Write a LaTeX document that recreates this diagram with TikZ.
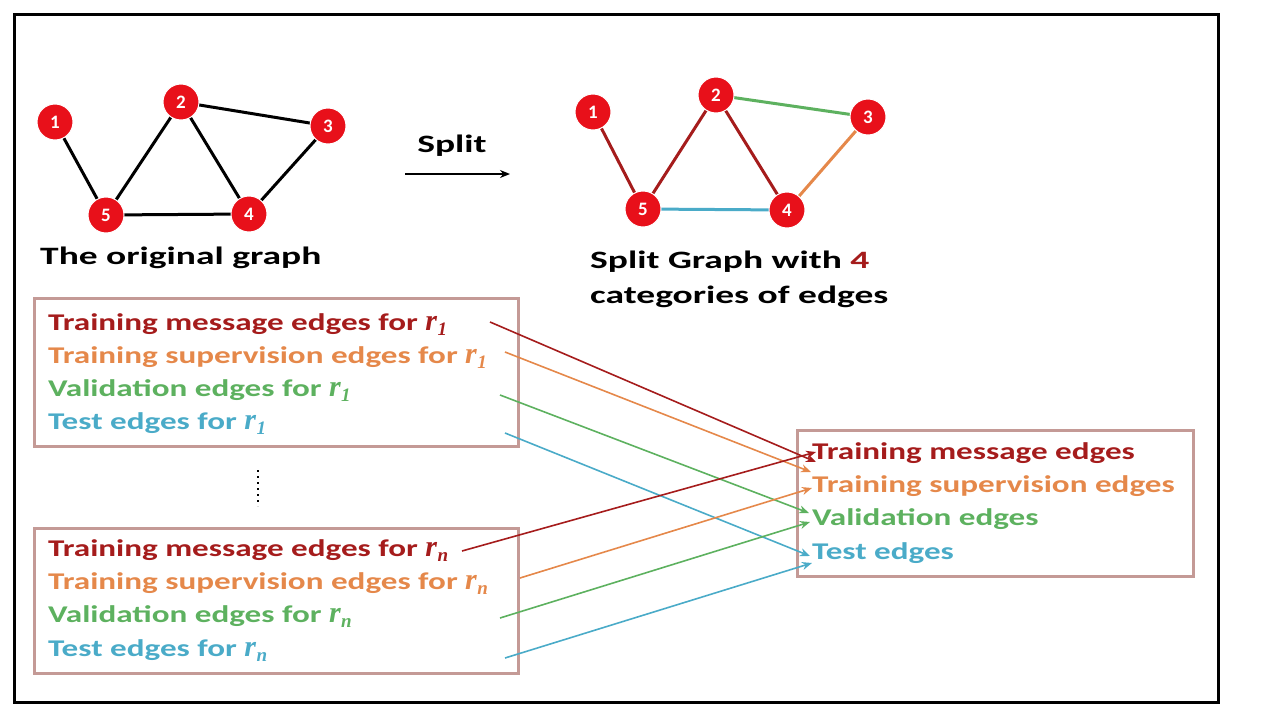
\documentclass[tikz,border=0pt]{standalone}
\usepackage{fontspec}
\setmainfont{Carlito}
\newfontfamily\widefont[FakeStretch=1.38]{Carlito}
\newfontfamily\wideerfont[FakeStretch=1.5]{Carlito}
\newfontfamily\rfont{Liberation Serif}
\usetikzlibrary{arrows.meta}
\definecolor{dred}{HTML}{A51C1C}
\definecolor{org}{HTML}{E5884A}
\definecolor{grn}{HTML}{5DB15F}
\definecolor{blu}{HTML}{4AABC8}
\definecolor{frm}{HTML}{C49A96}
\definecolor{nred}{HTML}{E8101A}
\newcommand{\rv}[1]{{\rfont\bfseries\itshape\fontsize{30}{30}\selectfont r\kern0.5pt\raisebox{-5pt}{\fontsize{19}{19}\selectfont #1}}}
\tikzset{
  vtx/.style={circle,fill=nred,draw=white,line width=1pt,minimum size=36pt,inner sep=0pt,text=white,font=\fontsize{19}{19}\selectfont\bfseries},
  lbl/.style={anchor=west,inner sep=0pt,font=\widefont\fontsize{24}{28}\selectfont\bfseries},
  ttl/.style={anchor=west,inner sep=0pt,font=\wideerfont\fontsize{25}{29}\selectfont\bfseries},
  ge/.style={line width=3pt},
  sbox/.style={draw=frm,line width=3pt},
  arr/.style={line width=1.6pt,-{Stealth[length=10pt,width=8pt]}}
}
\begin{document}
\begin{tikzpicture}[x=1pt,y=-1pt]
\useasboundingbox (0,0) rectangle (1280,720);
\draw[line width=3pt] (14,14) rectangle (1218,702);
% original graph
\coordinate (c1) at (55,122); \coordinate (c2) at (181,102);
\coordinate (c3) at (328,126); \coordinate (c5) at (106,215);
\coordinate (c4) at (249,214);
\draw[ge] (c1)--(c5) (c5)--(c2) (c2)--(c4) (c2)--(c3) (c3)--(c4) (c5)--(c4);
\node[vtx] (a1) at (c1) {1};
\node[vtx] (a2) at (c2) {2};
\node[vtx] (a3) at (c3) {3};
\node[vtx] (a5) at (c5) {5};
\node[vtx] (a4) at (c4) {4};
\node[ttl] (t1) at (40,258) {The original graph};
% split arrow
\coordinate (sa) at (405,174); \coordinate (sb) at (510,174);
\draw[line width=1.8pt,-{Stealth[length=10pt,width=8pt]}] (sa)--(sb);
\node[ttl,anchor=center] (st) at (452,146) {Split};
% split graph
\coordinate (d1) at (593,112); \coordinate (d2) at (716,95);
\coordinate (d3) at (868,117); \coordinate (d5) at (643,209);
\coordinate (d4) at (787,210);
\draw[ge,dred] (d1)--(d5) (d5)--(d2) (d2)--(d4);
\draw[ge,grn] (d2)--(d3);
\draw[ge,org] (d3)--(d4);
\draw[ge,blu] (d5)--(d4);
\node[vtx] (b1) at (d1) {1};
\node[vtx] (b2) at (d2) {2};
\node[vtx] (b3) at (d3) {3};
\node[vtx] (b5) at (d5) {5};
\node[vtx] (b4) at (d4) {4};
\node[ttl] (t2) at (590,262) {Split Graph with \textcolor{dred}{4}};
\node[ttl] (t3) at (590,297) {categories of edges};
% boxes
\draw[sbox] (34,298) rectangle (518,446);
\draw[sbox] (34,528) rectangle (518,673);
\draw[sbox] (797,430) rectangle (1193,576);
\node[lbl,dred] (p1) at (48,325) {Training message edges for \rv1};
\node[lbl,org] (p2) at (48,358) {Training supervision edges for \rv1};
\node[lbl,grn] (p3) at (48,391) {Validation edges for \rv1};
\node[lbl,blu] (p4) at (48,424) {Test edges for \rv1};
\node[lbl,dred] (q1) at (48,551) {Training message edges for \rv n};
\node[lbl,org] (q2) at (48,584) {Training supervision edges for \rv n};
\node[lbl,grn] (q3) at (48,617) {Validation edges for \rv n};
\node[lbl,blu] (q4) at (48,651) {Test edges for \rv n};
\node[lbl,dred] (s1) at (812,453) {Training message edges};
\node[lbl,org] (s2) at (812,486) {Training supervision edges};
\node[lbl,grn] (s3) at (812,519) {Validation edges};
\node[lbl,blu] (s4) at (812,553) {Test edges};
\draw[line width=2pt,dash pattern=on 2pt off 4pt] (258,470)--(258,506);
% arrows
\coordinate (pa1) at (490,322); \coordinate (pa2) at (505,352);
\coordinate (pa3) at (500,395); \coordinate (pa4) at (505,433);
\coordinate (qa1) at (462,551); \coordinate (qa2) at (520,578);
\coordinate (qa3) at (500,618); \coordinate (qa4) at (505,658);
\coordinate (r1a) at (816,462); \coordinate (r1b) at (816,452);
\coordinate (r2a) at (811,472); \coordinate (r2b) at (812,488);
\coordinate (r3a) at (809,513); \coordinate (r3b) at (810,522);
\coordinate (r4a) at (810,556); \coordinate (r4b) at (812,563);
\draw[arr,dred] (pa1)--(r1a);
\draw[arr,org] (pa2)--(r2a);
\draw[arr,grn] (pa3)--(r3a);
\draw[arr,blu] (pa4)--(r4a);
\draw[arr,dred] (qa1)--(r1b);
\draw[arr,org] (qa2)--(r2b);
\draw[arr,grn] (qa3)--(r3b);
\draw[arr,blu] (qa4)--(r4b);
\end{tikzpicture}
\end{document}
